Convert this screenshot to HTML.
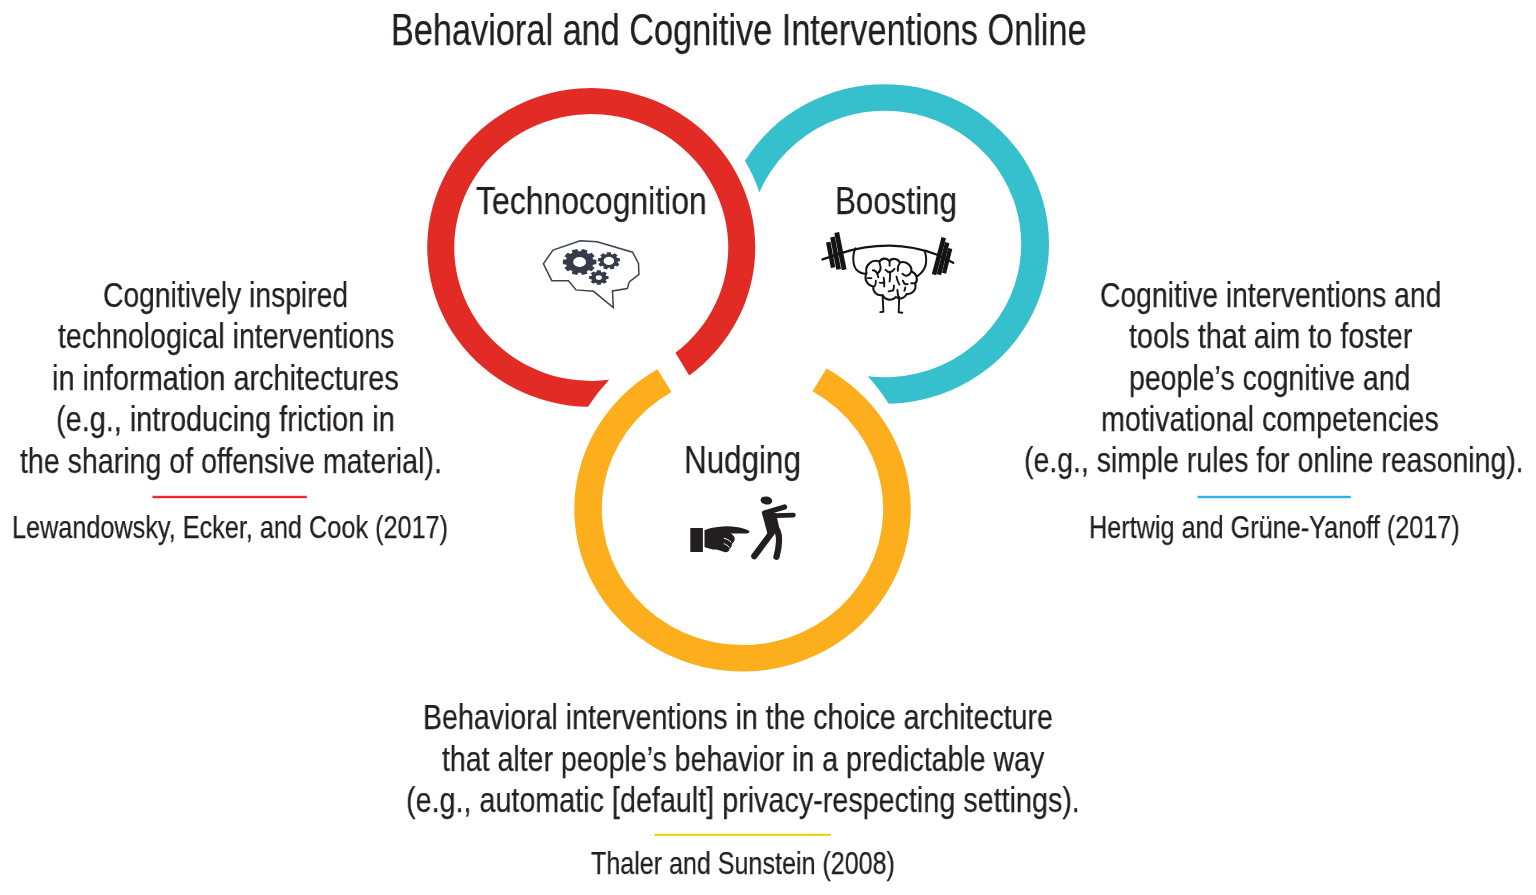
<!DOCTYPE html>
<html><head><meta charset="utf-8"><style>
html,body{margin:0;padding:0;background:#fff;}
body{width:1536px;height:895px;position:relative;overflow:hidden;}
.t{position:absolute;white-space:nowrap;font-family:"Liberation Sans",sans-serif;color:#231f20;transform-origin:0 0;will-change:transform;-webkit-text-stroke:0.25px #231f20;}
</style></head><body>
<svg width="1536" height="895" viewBox="0 0 1536 895" style="position:absolute;left:0;top:0">
<path d="M689.16,375.38 A164,159.4 0 1 0 587.99,406.87 A188.38400000000001,181.77600000000004 0 0 1 609.15,379.76 A137,133.4 0 1 1 675.47,352.71 Z" fill="#e32b26"/>
<path d="M744.95,160.85 A164,159.8 0 1 1 888.71,403.76 A184.17899999999997,177.7185 0 0 0 867.77,376.13 A136.2,133.2 0 1 0 759.43,192.41 A176.956,171.9926 0 0 0 744.95,160.85 Z" fill="#36bfcd"/>
<path d="M826.55,368.62 A168.2,162.3 0 1 1 657.48,369.16 L671.49,391.88 A140.7,135.9 0 1 0 812.58,391.36 Z" fill="#fcae1c"/>
<rect x="152.5" y="495.8" width="154.3" height="2.4" fill="#ec2a30"/>
<rect x="1197.6" y="495.8" width="153.2" height="2.4" fill="#2fb0e8"/>
<rect x="654.6" y="833.8" width="176.2" height="2.2" fill="#f4cf12"/>
<g>
<polygon points="580.2,240.7 597,241.7 632.6,252.2 638.5,263.5 638.9,274.4 629.3,281.9 627.2,288.6 612.5,291 613.3,307.5 593.6,291.3 576,289.9 568.5,280.7 551.8,280.7 543.4,263.9 553,250.1" fill="none" stroke="#3b4251" stroke-width="1.5" stroke-linejoin="miter"/>
<path d="M580.82,251.30 L582.15,249.05 L587.41,250.37 L586.77,252.79 L587.46,253.13 L588.12,253.50 L588.75,253.90 L591.55,252.68 L594.80,256.13 L592.43,257.80 L592.73,258.38 L592.98,258.98 L593.18,259.59 L596.37,259.87 L596.37,264.13 L593.18,264.41 L592.98,265.02 L592.73,265.62 L592.43,266.20 L594.80,267.87 L591.55,271.32 L588.75,270.10 L588.12,270.50 L587.46,270.87 L586.77,271.21 L587.41,273.63 L582.15,274.95 L580.82,272.70 L580.01,272.74 L579.19,272.74 L578.38,272.70 L577.05,274.95 L571.79,273.63 L572.43,271.21 L571.74,270.87 L571.08,270.50 L570.45,270.10 L567.65,271.32 L564.40,267.87 L566.77,266.20 L566.47,265.62 L566.22,265.02 L566.02,264.41 L562.83,264.13 L562.83,259.87 L566.02,259.59 L566.22,258.98 L566.47,258.38 L566.77,257.80 L564.40,256.13 L567.65,252.68 L570.45,253.90 L571.08,253.50 L571.74,253.13 L572.43,252.79 L571.79,250.37 L577.05,249.05 L578.38,251.30 L579.19,251.26 L580.01,251.26 Z M573.14,262.00 a6.46,4.98 0 1 0 12.92,0 a6.46,4.98 0 1 0 -12.92,0 Z" fill="#363b49" fill-rule="evenodd"/>
<path d="M606.65,254.16 L606.94,252.33 L610.86,252.33 L611.15,254.16 L611.71,254.29 L612.27,254.44 L612.81,254.62 L614.55,253.37 L617.56,255.31 L616.25,256.85 L616.58,257.23 L616.87,257.62 L617.13,258.02 L619.52,257.92 L620.20,260.90 L617.91,261.43 L617.85,261.88 L617.75,262.33 L617.61,262.77 L619.52,263.88 L617.56,266.49 L615.36,265.77 L614.93,266.08 L614.48,266.37 L614.01,266.64 L614.55,268.43 L610.86,269.47 L609.78,267.83 L609.19,267.86 L608.61,267.86 L608.02,267.83 L606.94,269.47 L603.25,268.43 L603.79,266.64 L603.32,266.37 L602.87,266.08 L602.44,265.77 L600.24,266.49 L598.28,263.88 L600.19,262.77 L600.05,262.33 L599.95,261.88 L599.89,261.43 L597.60,260.90 L598.28,257.92 L600.67,258.02 L600.93,257.62 L601.22,257.23 L601.55,256.85 L600.24,255.31 L603.25,253.37 L604.99,254.62 L605.53,254.44 L606.09,254.29 Z M603.59,260.90 a5.31,4.09 0 1 0 10.62,0 a5.31,4.09 0 1 0 -10.62,0 Z" fill="#363b49" fill-rule="evenodd"/>
<path d="M596.65,272.06 L596.79,270.35 L600.81,270.35 L600.95,272.06 L601.49,272.19 L602.01,272.35 L602.52,272.54 L604.24,271.42 L607.07,273.54 L605.57,274.82 L605.82,275.20 L606.04,275.59 L606.22,275.99 L608.49,276.10 L608.49,279.10 L606.22,279.21 L606.04,279.61 L605.82,280.00 L605.57,280.38 L607.07,281.66 L604.24,283.78 L602.52,282.66 L602.01,282.85 L601.49,283.01 L600.95,283.14 L600.81,284.85 L596.79,284.85 L596.65,283.14 L596.11,283.01 L595.59,282.85 L595.08,282.66 L593.36,283.78 L590.53,281.66 L592.03,280.38 L591.78,280.00 L591.56,279.61 L591.38,279.21 L589.11,279.10 L589.11,276.10 L591.38,275.99 L591.56,275.59 L591.78,275.20 L592.03,274.82 L590.53,273.54 L593.36,271.42 L595.08,272.54 L595.59,272.35 L596.11,272.19 Z M595.73,277.60 a3.07,2.29 0 1 0 6.14,0 a3.07,2.29 0 1 0 -6.14,0 Z" fill="#363b49" fill-rule="evenodd"/>
</g><g fill="#141414" stroke="none"><polygon points="826.06,242.62 830.48,241.78 835.30,267.18 830.88,268.02"/><polygon points="830.17,237.44 834.79,236.56 840.94,268.96 836.33,269.84"/><polygon points="834.30,232.98 839.10,232.02 846.56,269.32 841.76,270.28"/><polygon points="941.54,237.11 945.99,238.29 936.25,275.19 931.80,274.01"/><polygon points="945.05,242.03 949.40,243.17 941.08,275.17 936.73,274.03"/><polygon points="948.16,247.88 952.34,248.92 946.14,273.72 941.96,272.68"/></g>
<g fill="none" stroke="#141414" stroke-linecap="round" stroke-linejoin="round">
<path d="M822.5,259.4 L843,252.7 C860,247 875,245.5 890,245.6 C905,245.8 918,247.5 936.5,254.5 L953.2,262.8" stroke-width="2.4"/>
<path d="M855.4,248.4 C852.5,254 852.6,264 855.8,268.8 C858.2,272 862,273.6 866.5,273.8" stroke-width="2"/>
<path d="M924.6,251 C926.6,256 926.8,264 924.6,268 C922.6,272 919,275.5 914.8,277.5" stroke-width="2"/>
<path d="M866.5,273.2 A9.79,9.79 0 0 1 879.5,261.5 A5.89,5.89 0 0 1 889.3,261.0 A6.43,6.43 0 0 1 899.9,262.6 A8.77,8.77 0 0 1 911.5,271.5 A8.08,8.08 0 0 1 915.2,284.0 A7.95,7.95 0 0 1 906.5,294.0 A6.77,6.77 0 0 1 896.0,297.0 A8.19,8.19 0 0 1 882.5,295.0 A7.52,7.52 0 0 1 873.3,286.5 A9.26,9.26 0 0 1 866.5,273.2 Z" stroke-width="2.1" fill="#fff"/>
<path d="M872.9,270.3 C875,270.5 876.5,272 877.3,273.6 L878.3,277.2" stroke-width="1.9"/><path d="M877.3,273.6 C879.5,272 880.8,270 880.6,267.5 C880.4,265.5 879.8,264 879.5,262.5" stroke-width="1.9"/><path d="M885.6,269.8 C887,271.5 888.5,272.2 890.1,272.2 C891.8,272 893.5,270.5 894.5,268.8" stroke-width="1.9"/><path d="M890.1,272.2 C890.2,275.5 890,279 889.6,281.6" stroke-width="1.9"/><path d="M889.6,261.5 L889.6,265.8" stroke-width="1.9"/><path d="M897.9,270.8 C897.6,268 898,265.5 899.5,263.5" stroke-width="1.9"/><path d="M902.4,273.7 C903.8,275.4 905.8,276 907.5,275.5 C909.5,274.8 910.8,273 911.2,271.5" stroke-width="1.9"/><path d="M867.4,278.1 L871.4,278.1" stroke-width="1.9"/><path d="M875.8,280.6 C876,282.5 875.8,284.5 874.6,286.2" stroke-width="1.9"/><path d="M883.7,277.6 C884.3,280.5 884.4,283.5 884.2,286.5" stroke-width="1.9"/><path d="M879.7,282.6 C881,283 882.5,283 884,282.5" stroke-width="1.9"/><path d="M896.5,276.7 C897,279.5 898,282.5 899.4,284.5" stroke-width="1.9"/><path d="M902.9,280.6 C903.5,282.5 904.3,283.8 905.5,284.3 L907.8,284.1" stroke-width="1.9"/><path d="M911.2,283.3 L915,283.3" stroke-width="1.9"/><path d="M894,285.5 C894,287.5 893.8,289 893,290.4" stroke-width="1.9"/><path d="M888.6,291.4 C890,291.2 891.8,290.8 893,290.4" stroke-width="1.9"/><path d="M897.4,289.9 C897.6,292.5 897.9,294.8 898.4,296.8" stroke-width="1.9"/><path d="M905.3,287.5 C905.2,289 904.8,290 904.3,290.8" stroke-width="1.9"/>
<path d="M882.6,296 L883.4,311.8 L880.3,312.1" stroke-width="1.9"/>
<path d="M899.2,297 L898.7,312.3 L902.3,312.7" stroke-width="1.9"/>
</g><g fill="#231f20">
<rect x="690.3" y="528" width="12.6" height="24"/>
<path d="M704.5,530.3 C709,528.5 713,527.4 718,527 C724,526.2 730,526.1 736,527 C741,527.6 746,529 748.6,530.6 C750.2,531.6 749.3,533.4 747,533.4 C742,533.6 736,533.3 730.8,533.6 C734,535.5 735.5,538 734.5,540.6 C733.5,542.5 732.5,543.5 731.8,544 C732.2,546 731,548 729.5,548.8 C729.5,551 727.5,552.6 725,552.3 C722,551.5 719,549.8 716,549.6 C712,549.4 708,548.4 704.5,546.9 Z"/>
<path d="M723.8,538.3 C726.5,538.8 729,540 731.3,542.4" stroke="#fff" stroke-width="1.0" fill="none"/>
<path d="M723.8,543.7 C726,544.3 727.8,545.5 729.5,547.6" stroke="#fff" stroke-width="1.0" fill="none"/>
<ellipse cx="766.4" cy="500.5" rx="5.9" ry="4.0" transform="rotate(8 766.4 500.5)"/>
<path d="M762.3,514.6 L766,511.8 L776,513.2 L780.6,533.8 L767.5,533.8 Z"/>
</g>
<g stroke="#231f20" stroke-linecap="round" fill="none">
<path d="M764.5,513 L784.6,506.9" stroke-width="5.2"/>
<path d="M775.5,515.6 L793.3,515.1" stroke-width="4.8"/>
<path d="M771.5,533 L754.3,556.2" stroke-width="6.3"/>
<path d="M777.6,531 C779.6,536 779.6,545 776.5,556.8" stroke-width="6.3"/>
</g>
</svg>
<div class="t" style="left:390.76px;top:7.95px;font-size:44px;line-height:44px;transform:scaleX(0.7792)">Behavioral and Cognitive Interventions Online</div><div class="t" style="left:475.96px;top:182.03px;font-size:38px;line-height:38px;transform:scaleX(0.8399)">Technocognition</div><div class="t" style="left:835.23px;top:182.03px;font-size:38px;line-height:38px;transform:scaleX(0.8245)">Boosting</div><div class="t" style="left:684.32px;top:441.13px;font-size:38px;line-height:38px;transform:scaleX(0.8257)">Nudging</div><div class="t" style="left:103.16px;top:277.59px;font-size:34.5px;line-height:34.5px;transform:scaleX(0.8193)">Cognitively inspired</div><div class="t" style="left:58.40px;top:319.09px;font-size:34.5px;line-height:34.5px;transform:scaleX(0.8274)">technological interventions</div><div class="t" style="left:52.23px;top:360.59px;font-size:34.5px;line-height:34.5px;transform:scaleX(0.8372)">in information architectures</div><div class="t" style="left:56.13px;top:402.09px;font-size:34.5px;line-height:34.5px;transform:scaleX(0.8372)">(e.g., introducing friction in</div><div class="t" style="left:19.80px;top:443.59px;font-size:34.5px;line-height:34.5px;transform:scaleX(0.8280)">the sharing of offensive material).</div><div class="t" style="left:11.90px;top:512.23px;font-size:31.5px;line-height:31.5px;transform:scaleX(0.8015)">Lewandowsky, Ecker, and Cook (2017)</div><div class="t" style="left:1099.56px;top:277.59px;font-size:34.5px;line-height:34.5px;transform:scaleX(0.8204)">Cognitive interventions and</div><div class="t" style="left:1129.20px;top:319.09px;font-size:34.5px;line-height:34.5px;transform:scaleX(0.8348)">tools that aim to foster</div><div class="t" style="left:1129.25px;top:360.59px;font-size:34.5px;line-height:34.5px;transform:scaleX(0.8258)">people’s cognitive and</div><div class="t" style="left:1101.44px;top:402.09px;font-size:34.5px;line-height:34.5px;transform:scaleX(0.8310)">motivational competencies</div><div class="t" style="left:1024.45px;top:443.19px;font-size:34.5px;line-height:34.5px;transform:scaleX(0.8245)">(e.g., simple rules for online reasoning).</div><div class="t" style="left:1089.10px;top:511.83px;font-size:31.5px;line-height:31.5px;transform:scaleX(0.8011)">Hertwig and Grüne-Yanoff (2017)</div><div class="t" style="left:423.42px;top:700.29px;font-size:34.5px;line-height:34.5px;transform:scaleX(0.8272)">Behavioral interventions in the choice architecture</div><div class="t" style="left:442.10px;top:741.79px;font-size:34.5px;line-height:34.5px;transform:scaleX(0.8271)">that alter people’s behavior in a predictable way</div><div class="t" style="left:406.03px;top:783.19px;font-size:34.5px;line-height:34.5px;transform:scaleX(0.8327)">(e.g., automatic [default] privacy-respecting settings).</div><div class="t" style="left:591.30px;top:847.63px;font-size:31.5px;line-height:31.5px;transform:scaleX(0.7960)">Thaler and Sunstein (2008)</div>
</body></html>
